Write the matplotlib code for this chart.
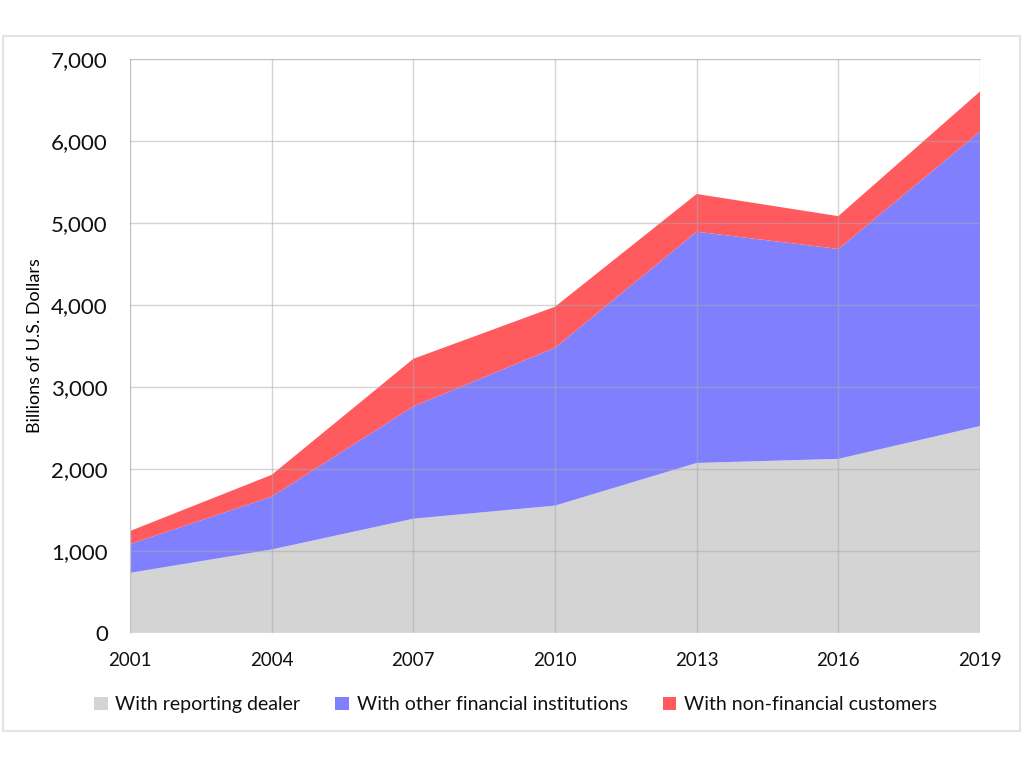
import matplotlib
matplotlib.use("Agg")
import matplotlib.pyplot as plt
from matplotlib.patches import Rectangle

years = [2001, 2004, 2007, 2010, 2013, 2016, 2019]
reporting_dealer = [730, 1015, 1390, 1550, 2070, 2120, 2520]
other_financial = [350, 645, 1370, 1925, 2820, 2560, 3590]
non_financial = [160, 265, 580, 500, 460, 400, 490]
labels = ["With reporting dealer", "With other financial institutions", "With non-financial customers"]
colors = ["#d4d4d4", "#8080ff", "#ff5a5e"]
yticks = [0, 1000, 2000, 3000, 4000, 5000, 6000, 7000]

plt.rcParams['font.family'] = ['Lato', 'DejaVu Sans']
plt.rcParams['text.color'] = '#111111'
plt.rcParams['xtick.color'] = '#111111'
plt.rcParams['ytick.color'] = '#111111'

fig = plt.figure(figsize=(10.24, 7.68), dpi=100)
fig.patches.append(Rectangle((3/1024, 1-731/768), 1017/1024, 695/768, transform=fig.transFigure,
                             fill=False, edgecolor="#e3e3e3", linewidth=1.5))
ax = fig.add_axes([130/1024, 1-632.7/768, 850/1024, 574/768])

ax.stackplot(years, reporting_dealer, other_financial, non_financial, colors=colors, labels=labels, linewidth=0)
ax.set_xlim(2001, 2019)
ax.set_ylim(0, 7000)
ax.set_xticks(years)
ax.set_yticks(yticks)
ax.set_yticklabels([f"{v:,}" for v in yticks])
ax.grid(True, color="#aaaaaa", alpha=0.5, linewidth=1)
ax.set_axisbelow(False)
for s in ax.spines.values():
    s.set_visible(False)
ax.spines['top'].set_visible(True)
ax.spines['top'].set_color("#dddddd")
ax.spines['left'].set_visible(True)
ax.spines['left'].set_color("#dddddd")
ax.tick_params(axis='y', length=0, labelsize=16, pad=16)
ax.tick_params(axis='x', length=0, labelsize=13.5, pad=14)
ax.set_ylabel("Billions of U.S. Dollars", fontsize=13, labelpad=6)

ax.legend(loc='upper center', bbox_to_anchor=(0.4535, -0.08), ncol=3, frameon=False, fontsize=14,
          handlelength=0.7, handleheight=0.7, handletextpad=0.4, columnspacing=1.8)

fig.savefig("out.png", dpi=100)
